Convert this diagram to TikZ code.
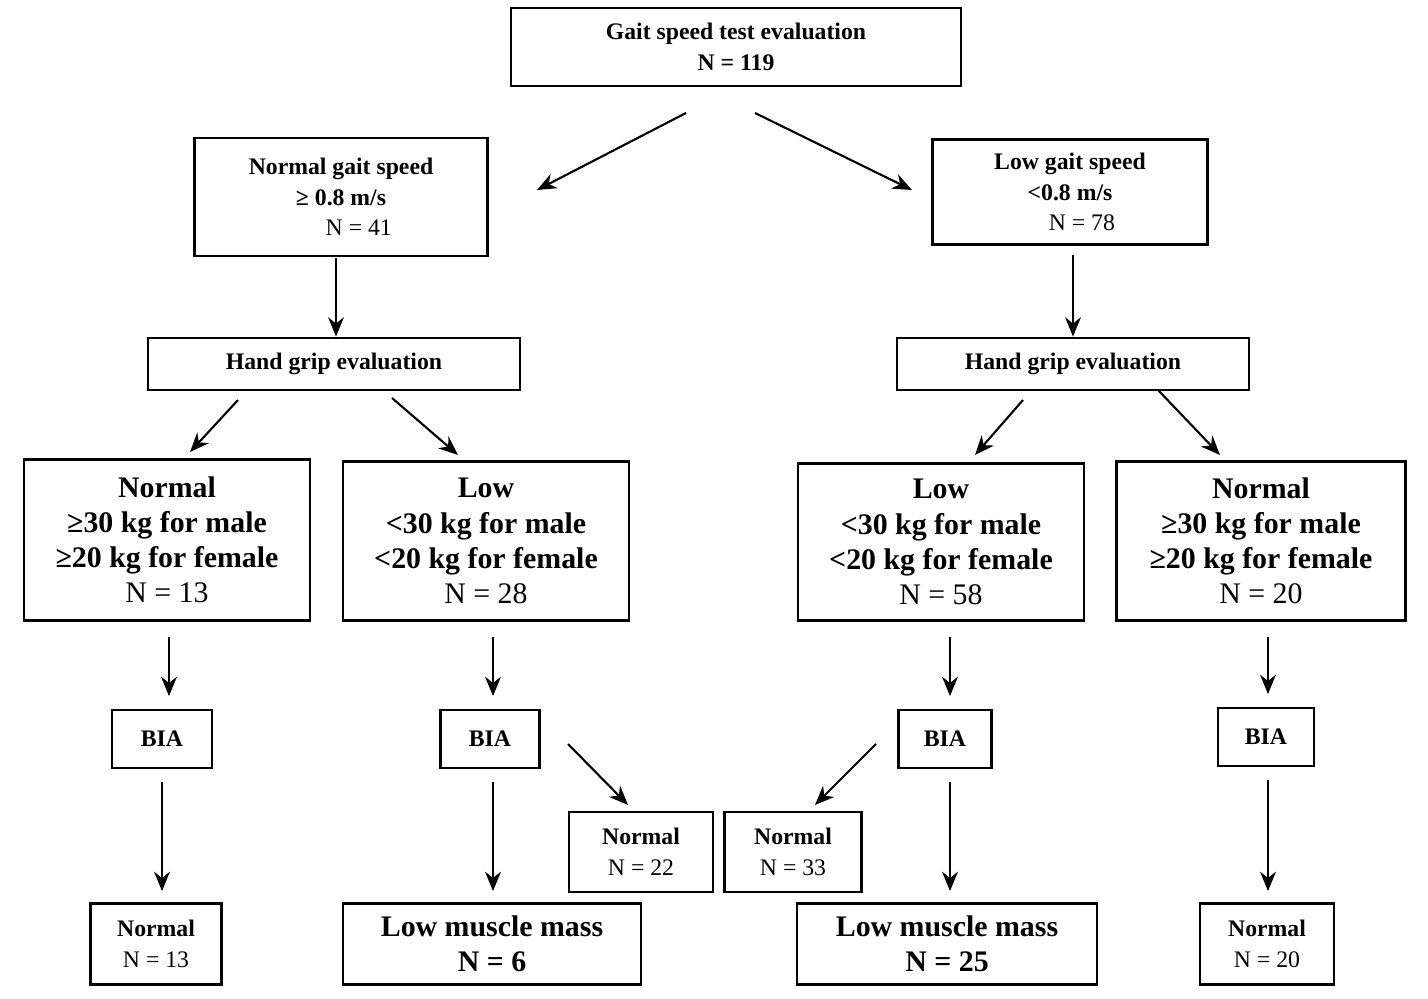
\documentclass[tikz,border=0pt]{standalone}
\usepackage{fontspec}
\setmainfont{Liberation Serif}
\usetikzlibrary{arrows.meta}
\tikzset{
  box/.style={draw, line width=1.6pt, align=center, inner sep=0pt},
  arr/.style={line width=1.2pt, -{Stealth[length=11pt,width=9pt]}},
  small/.style={font=\fontsize{13.5}{17.5}\selectfont},
  big/.style={font=\fontsize{17}{20}\selectfont}
}
\begin{document}
\begin{tikzpicture}[x=0.02cm, y=-0.02cm]
	\useasboundingbox (0,0) rectangle (1428,999);

	% First level
	\node[box, small, minimum width=450*0.02cm, minimum height=78*0.02cm] (top) at (736,47) {\textbf{Gait speed test evaluation}\\\textbf{N = 119}};
	\node[box, small, minimum width=293*0.02cm, minimum height=118*0.02cm] (ngs) at (341,197) {\textbf{Normal gait speed}\\\textbf{≥ 0.8 m/s}\hspace*{4.5em}\\\hspace*{1.5em}N = 41};
	\node[box, small, minimum width=275*0.02cm, minimum height=105*0.02cm] (lgs) at (1070,192) {\textbf{Low gait speed}\\\textbf{<0.8 m/s}\hspace*{2.5em}\\\hspace*{1em}N = 78};

	% Hand grip
	\node[box, small, minimum width=372*0.02cm, minimum height=52*0.02cm] (hgl) at (334,364) {\textbf{Hand grip evaluation}};
	\node[box, small, minimum width=352*0.02cm, minimum height=52*0.02cm] (hgr) at (1073,364) {\textbf{Hand grip evaluation}};

	% Hand grip results
	\node[box, big, minimum width=286*0.02cm, minimum height=161*0.02cm] (nl) at (167,540) {\textbf{Normal}\\\textbf{≥30 kg for male}\\\textbf{≥20 kg for female}\\N = 13};
	\node[box, big, minimum width=286*0.02cm, minimum height=159*0.02cm] (ll) at (486,541) {\textbf{Low}\\\textbf{<30 kg for male}\\\textbf{<20 kg for female}\\N = 28};
	\node[box, big, minimum width=286*0.02cm, minimum height=157*0.02cm] (lr) at (941,542) {\textbf{Low}\\\textbf{<30 kg for male}\\\textbf{<20 kg for female}\\N = 58};
	\node[box, big, minimum width=289*0.02cm, minimum height=159*0.02cm] (nr) at (1261,541) {\textbf{Normal}\\\textbf{≥30 kg for male}\\\textbf{≥20 kg for female}\\N = 20};

	% BIA
	\node[box, small, minimum width=100*0.02cm, minimum height=58*0.02cm] (bia1) at (162,739) {\textbf{BIA}};
	\node[box, small, minimum width=99*0.02cm, minimum height=58*0.02cm] (bia2) at (490,739) {\textbf{BIA}};
	\node[box, small, minimum width=93*0.02cm, minimum height=58*0.02cm] (bia3) at (945,739) {\textbf{BIA}};
	\node[box, small, minimum width=96*0.02cm, minimum height=58*0.02cm] (bia4) at (1266,737) {\textbf{BIA}};

	% Outcomes
	\node[box, small, minimum width=144*0.02cm, minimum height=80*0.02cm] (n22) at (641,852) {\textbf{Normal}\\N = 22};
	\node[box, small, minimum width=137*0.02cm, minimum height=80*0.02cm] (n33) at (793,852) {\textbf{Normal}\\N = 33};
	\node[box, small, minimum width=131*0.02cm, minimum height=81*0.02cm] (n13) at (156,944) {\textbf{Normal}\\N = 13};
	\node[box, big, minimum width=298*0.02cm, minimum height=81*0.02cm] (lm6) at (492,944) {\textbf{Low muscle mass}\\\textbf{N = 6}};
	\node[box, big, minimum width=300*0.02cm, minimum height=81*0.02cm] (lm25) at (947,944) {\textbf{Low muscle mass}\\\textbf{N = 25}};
	\node[box, small, minimum width=134*0.02cm, minimum height=81*0.02cm] (n20) at (1267,944) {\textbf{Normal}\\N = 20};

	% Free arrow ends
	\coordinate (t1) at (686,113); \coordinate (t1e) at (537,190);
	\coordinate (t2) at (755,113); \coordinate (t2e) at (912,190);
	\coordinate (h1) at (238,400); \coordinate (h1e) at (190,452);
	\coordinate (h2) at (392,398); \coordinate (h2e) at (458,455);
	\coordinate (h3) at (1023,400); \coordinate (h3e) at (975,455);
	\coordinate (h4) at (1158,390); \coordinate (h4e) at (1220,455);
	\coordinate (b2) at (568,744); \coordinate (b2e) at (628,805);
	\coordinate (b3) at (876,744); \coordinate (b3e) at (815,805);

	% Connectors
	\draw[arr] (t1) -- (t1e);
	\draw[arr] (t2) -- (t2e);
	\draw[arr] (336,258) -- (hgl.north -| 336,0);
	\draw[arr] (1073,255) -- (hgr.north);
	\draw[arr] (h1) -- (h1e);
	\draw[arr] (h2) -- (h2e);
	\draw[arr] (h3) -- (h3e);
	\draw[arr] (h4) -- (h4e);
	\foreach \xx/\src/\dst in {169/nl/bia1, 493/ll/bia2, 950/lr/bia3, 1268/nr/bia4}
		\draw[arr] ([yshift=-0.3cm]\src.south -| \xx,0) -- ([yshift=0.25cm]\dst.north -| \xx,0);
	\foreach \xx/\src/\dst in {162/bia1/n13, 493/bia2/lm6, 950/bia3/lm25, 1268/bia4/n20}
		\draw[arr] ([yshift=-0.25cm]\src.south -| \xx,0) -- ([yshift=0.22cm]\dst.north -| \xx,0);
	\draw[arr] (b2) -- (b2e);
	\draw[arr] (b3) -- (b3e);
\end{tikzpicture}
\end{document}
